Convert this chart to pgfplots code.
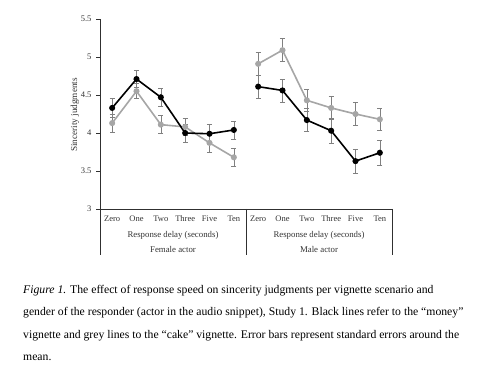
\documentclass[border=0pt]{standalone}
\usepackage{fontspec}
\setmainfont{Liberation Serif}
\usepackage{pgfplots}
\pgfplotsset{compat=1.18}
\definecolor{lgrey}{HTML}{A6A6A6}
\definecolor{egrey}{HTML}{808080}
\definecolor{axgrey}{HTML}{303030}
\begin{document}
\begin{tikzpicture}
\path[use as bounding box] (0pt,0pt) rectangle (482pt,386pt);
\begin{axis}[
  at={(100pt,177pt)}, anchor=south west,
  scale only axis, width=292pt, height=190pt,
  xmin=-0.5, xmax=11.5, ymin=3, ymax=5.5,
  axis x line*=bottom, axis y line*=left,
  axis line style={draw=axgrey, line width=0.8pt, -},
  xtick={0,...,11},
  xticklabels={Zero,One,Two,Three,Five,Ten,Zero,One,Two,Three,Five,Ten},
  major x tick style={draw=none},
  ytick={3,3.5,4,4.5,5,5.5},
  tick align=outside,
  major tick length=4pt,
  major y tick style={draw=axgrey, line width=0.6pt},
  /pgf/number format/assume math mode=true,
  ticklabel style={font=\fontsize{8.5}{9}\selectfont, text=black!80},
  xticklabel style={anchor=base, yshift=-9pt},
  yticklabel style={xshift=-1pt},
  clip=false,
  error bars/error bar style={draw=egrey, line width=0.6pt},
  error bars/error mark options={rotate=90, mark size=2.6pt, draw=egrey, line width=0.6pt},
]
% grey = cake, female
\addplot[lgrey, line width=1.6pt, mark=*, mark size=2.2pt, mark options={fill=lgrey, draw=lgrey},
  error bars/.cd, y dir=both, y explicit]
  coordinates {(0,4.13) +- (0,0.12) (1,4.55) +- (0,0.10) (2,4.11) +- (0,0.12)
               (3,4.08) +- (0,0.11) (4,3.87) +- (0,0.12) (5,3.68) +- (0,0.12)};
% grey = cake, male
\addplot[lgrey, line width=1.6pt, mark=*, mark size=2.2pt, mark options={fill=lgrey, draw=lgrey},
  error bars/.cd, y dir=both, y explicit]
  coordinates {(6,4.91) +- (0,0.15) (7,5.09) +- (0,0.15) (8,4.43) +- (0,0.15)
               (9,4.33) +- (0,0.15) (10,4.25) +- (0,0.15) (11,4.18) +- (0,0.15)};
% black = money, female
\addplot[black, line width=1.6pt, mark=*, mark size=2.2pt, mark options={fill=black, draw=black},
  error bars/.cd, y dir=both, y explicit]
  coordinates {(0,4.33) +- (0,0.12) (1,4.71) +- (0,0.11) (2,4.47) +- (0,0.12)
               (3,4.00) +- (0,0.12) (4,3.99) +- (0,0.12) (5,4.04) +- (0,0.12)};
% black = money, male
\addplot[black, line width=1.6pt, mark=*, mark size=2.2pt, mark options={fill=black, draw=black},
  error bars/.cd, y dir=both, y explicit]
  coordinates {(6,4.61) +- (0,0.15) (7,4.56) +- (0,0.15) (8,4.17) +- (0,0.15)
               (9,4.03) +- (0,0.16) (10,3.63) +- (0,0.16) (11,3.74) +- (0,0.16)};
\end{axis}
% group separators
\draw[axgrey, line width=0.8pt] (100pt,177pt) -- (100pt,131pt);
\draw[axgrey, line width=0.8pt] (246pt,177pt) -- (246pt,131pt);
\draw[axgrey, line width=0.8pt] (392pt,177pt) -- (392pt,131pt);
\begin{scope}[every node/.style={font=\fontsize{8.8}{9}\selectfont, text=black!80, anchor=base}]
\node at (173pt,149pt) {Response delay (seconds)};
\node at (319pt,149pt) {Response delay (seconds)};
\node at (173pt,133pt) {Female actor};
\node at (319pt,133pt) {Male actor};
\end{scope}
\node[font=\fontsize{9.2}{10}\selectfont, text=black!80, rotate=90] at (75pt,271pt) {Sincerity judgments};
% caption
\begin{scope}[every node/.style={anchor=base west, inner sep=0pt, font=\fontsize{11.7}{12}\selectfont}]
\node at (23pt,93pt) {\textit{Figure 1.} The effect of response speed on sincerity judgments per vignette scenario and};
\node at (23pt,70.5pt) {gender of the responder (actor in the audio snippet), Study 1. Black lines refer to the “money”};
\node at (23pt,48pt) {vignette and grey lines to the “cake” vignette. Error bars represent standard errors around the};
\node at (23pt,26pt) {mean.};
\end{scope}
\end{tikzpicture}
\end{document}
